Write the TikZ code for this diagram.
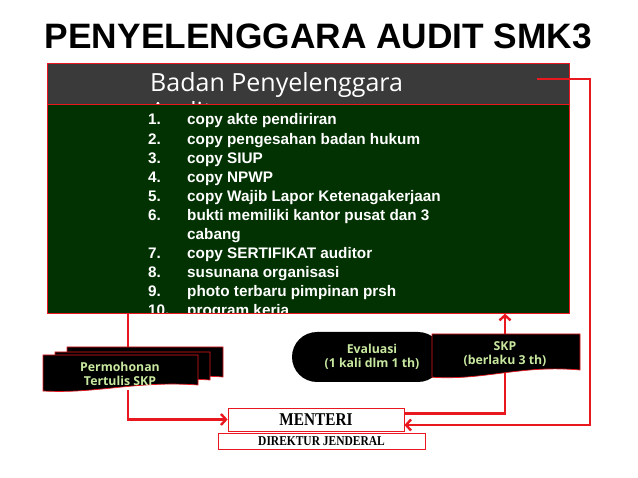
\documentclass[tikz,border=0pt]{standalone}
\usepackage{fontspec}
\setmainfont{Liberation Sans}
\newfontfamily\opensans{Open Sans}
\newfontfamily\serifbd[FakeStretch=0.85]{Liberation Serif}
\usetikzlibrary{arrows.meta}
\definecolor{lineRed}{RGB}{232,24,30}
\definecolor{headGray}{RGB}{58,58,58}
\definecolor{listGreen}{RGB}{2,50,2}
\definecolor{labelGreen}{RGB}{200,232,160}
% document shape with wavy bottom: x, y, width, height, path options
\newcommand\wavedoc[5]{%
  \begin{scope}[shift={(#1,#2)}, xscale=#3, yscale=#4]
    \path[#5] (0,0) -- (1,0) -- (1,1) .. controls (0.6,0.85) and (0.35,1.3) .. (0,1.2) -- cycle;
  \end{scope}}

\begin{document}
\begin{tikzpicture}[x=1pt, y=-1pt,
    redline/.style={draw=lineRed, line width=2.4pt},
    arrowtip/.style={-{Straight Barb[length=5pt,width=11pt]}},
    docfill/.style={fill=black, draw=lineRed, line width=0.7pt},
    boxtxt/.style={text=labelGreen, font=\opensans\bfseries\fontsize{12.3}{14}\selectfont, align=center},
    listtxt/.style={text=white, font=\bfseries\fontsize{15.3}{18}\selectfont, inner sep=0pt, anchor=base west},
    pangkat/.style={draw=lineRed, fill=white, line width=0.8pt, inner sep=0pt}]
    \fill[white] (0,0) rectangle (638,478);
    \useasboundingbox (0,0) rectangle (638,478);

    \node[font=\bfseries\fontsize{35.3}{40}\selectfont, anchor=base, inner sep=0pt] (judul) at (318.5,49) {PENYELENGGARA AUDIT SMK3};

    % badan penyelenggara + syarat
    \node[draw=lineRed, fill=headGray, line width=0.7pt, minimum width=522, minimum height=41, anchor=north west, inner sep=0pt] (badan) at (47,63) {};
    \node[text=white, font=\opensans\fontsize{25}{30}\selectfont, anchor=base west, inner sep=0pt] (badanA) at (150,92) {Badan Penyelenggara};
    \node[text=white, font=\opensans\fontsize{25}{30}\selectfont, anchor=base west, inner sep=0pt] (badanB) at (150,121) {Audit};
    \node[draw=lineRed, fill=listGreen, line width=0.7pt, minimum width=522, minimum height=209, anchor=north west, inner sep=0pt] (syarat) at (47,104) {};
    \begin{scope}
        \clip (47,104) rectangle (569,313);
        \foreach \n/\txt/\k in {1./copy akte pendiriran/0, 2./copy pengesahan badan hukum/1, 3./copy SIUP/2, 4./copy NPWP/3, 5./copy Wajib Lapor Ketenagakerjaan/4, 6./bukti memiliki kantor pusat dan 3/5, /cabang/6, 7./copy SERTIFIKAT auditor/7, 8./susunana organisasi/8, 9./photo terbaru pimpinan prsh/9, 10./program kerja/10}
        {
            \node[listtxt] (num\k) at (148,125+19.1*\k) {\n};
            \node[listtxt] (item\k) at (187,125+19.1*\k) {\txt};
        }
    \end{scope}

    % menteri
    \node[pangkat, minimum width=176, minimum height=23, font=\serifbd\bfseries\fontsize{18}{20}\selectfont] (menteri) at (316,419.5) {MENTERI};
    \node[pangkat, minimum width=207, minimum height=16, font=\serifbd\bfseries\fontsize{13.5}{15}\selectfont] (dirjen) at (321.5,441) {DIREKTUR JENDERAL};

    % alur
    \coordinate (permTop) at (128,350);
    \coordinate (permBot) at (128,390);
    \coordinate (skpC) at (505,354);
    \coordinate (hdr) at (537,79);
    \coordinate (loop) at (590,79);
    \draw[redline] (syarat.south -| permTop) -- (permTop);
    \draw[redline, arrowtip] (permBot) |- (menteri.west);
    \draw[redline, arrowtip] ([yshift=6]menteri.east) -| (syarat.south -| skpC);
    \draw[redline, arrowtip] (hdr) -- (loop) |- ([yshift=-5.5]menteri.east);

    % permohonan, evaluasi, skp
    \wavedoc{67}{347}{156}{30}{docfill}
    \wavedoc{55}{352}{155}{28}{docfill}
    \wavedoc{43}{355}{155}{30}{docfill}
    \fill[black, rounded corners=25] (292,332) rectangle (443,382);
    \wavedoc{432}{334}{148}{36}{docfill}
    \node[boxtxt] (perm) at (120,374) {Permohonan\\Tertulis SKP};
    \node[boxtxt] (eval) at (372,357) {Evaluasi\\(1 kali dlm 1 th)};
    \node[boxtxt] (skp) at (skpC) {SKP\\(berlaku 3 th)};
\end{tikzpicture}
\end{document}
